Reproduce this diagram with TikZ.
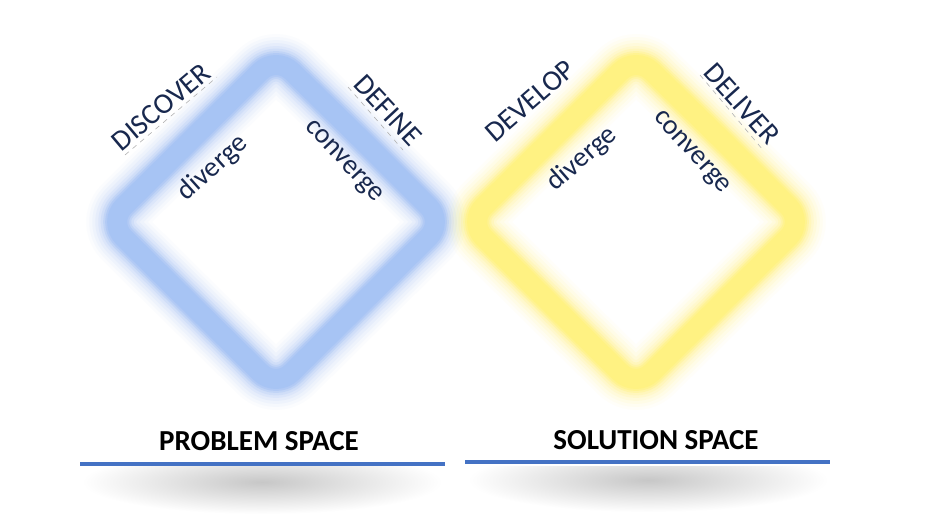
\documentclass[tikz,border=0pt]{standalone}
\usepackage{fontspec}
\setmainfont{Carlito}
\definecolor{dblue}{RGB}{160,192,244}
\definecolor{dyellow}{RGB}{255,242,120}
\definecolor{navy}{RGB}{24,40,78}
\definecolor{lineblue}{RGB}{68,114,196}
\newcommand\blurdiamond[3]{%
  \foreach \w/\o in {62/0.04,56/0.06,50/0.08,44/0.1,38/0.14,33/0.2,28/0.3,24/0.45,20/0.6}{%
    \draw[#3, line width=\w pt, opacity=\o, rounded corners=22pt, line join=round]
      (#1+84,#2-84) -- (#1+168,#2) -- (#1,#2+166) -- (#1-168,#2) -- (#1,#2-166) -- cycle;}}
\begin{document}
\begin{tikzpicture}[x=1pt,y=-1pt,
  phase/.style={text=navy, font=\fontsize{29}{33}\selectfont, inner sep=0pt},
  mode/.style={text=navy, font=\fontsize{28}{32}\selectfont, inner sep=0pt},
  spacelbl/.style={text=black, font=\bfseries\fontsize{29}{34}\selectfont, inner sep=0pt},
  spaceline/.style={draw=lineblue, line width=4pt},
  underl/.style={draw=gray!60, line width=0.6pt, dash pattern=on 5pt off 5pt}]
\fill[white] (0,0) rectangle (925,521);
\useasboundingbox (0,0) rectangle (925,521);

% shadows under the baselines
\begin{scope}
  \clip (0,466) rectangle (925,521);
  \shade[inner color=black!22, outer color=white] (262,482) ellipse (180 and 32);
  \shade[inner color=black!22, outer color=white] (648,480) ellipse (180 and 32);
\end{scope}

% blurred diamonds
\blurdiamond{276}{222}{dblue}
\blurdiamond{636}{222}{dyellow}

% faint dashed underlines
\draw[underl] (125,155) -- (217,77);
\draw[underl] (348,87) -- (403,150);
\draw[underl] (700,75) -- (763,150);

% phase labels
\node[phase, rotate=40]  (discover) at (161,107) {DISCOVER};
\node[phase, rotate=-47] (define)   at (388,110) {DEFINE};
\node[phase, rotate=41]  (develop)  at (530,101) {DEVELOP};
\node[phase, rotate=-48] (deliver)  at (742,104) {DELIVER};

\node[mode, rotate=42]  (div1)  at (213,168) {diverge};
\node[mode, rotate=-47] (conv1) at (343,162) {converge};
\node[mode, rotate=41]  (div2)  at (582,159) {diverge};
\node[mode, rotate=-48] (conv2) at (691,153) {converge};

% space labels and lines
\node[spacelbl] (problem)  at (259,441) {PROBLEM SPACE};
\node[spacelbl] (solution) at (656,440) {SOLUTION SPACE};
\coordinate (pl1) at (80,464);  \coordinate (pl2) at (445,464);
\coordinate (sl1) at (465,462); \coordinate (sl2) at (830,462);
\draw[spaceline] (pl1) -- (pl2);
\draw[spaceline] (sl1) -- (sl2);
\end{tikzpicture}
\end{document}
